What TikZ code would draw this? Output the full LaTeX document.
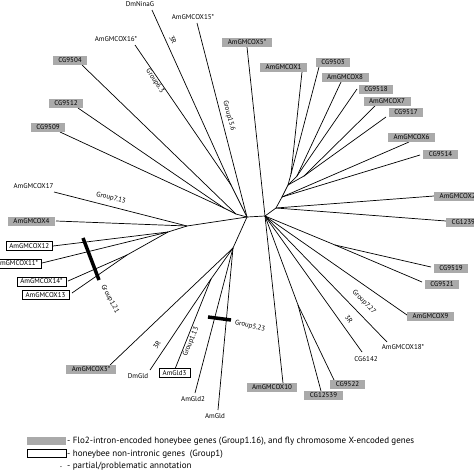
\documentclass[tikz,border=0pt]{standalone}
\usepackage{fontspec}
\setmainfont{PT Sans}
\definecolor{boxgray}{RGB}{170,170,170}
\newcommand{\lblfont}{\fontsize{7}{8}\selectfont}
\newcommand{\legfont}{\fontsize{9}{10}\selectfont}
\begin{document}
\begin{tikzpicture}[x=1pt,y=-1pt,
  br/.style={line width=0.7pt},
  gbox/.style={fill=boxgray, inner xsep=5.5pt, inner ysep=0pt, minimum height=9pt, font=\lblfont},
  wbox/.style={draw, line width=0.6pt, fill=white, inner xsep=3.5pt, inner ysep=0pt, minimum height=9pt, font=\lblfont},
  plainlbl/.style={inner sep=0pt, font=\lblfont},
  grplbl/.style={inner sep=0pt, font=\lblfont},
  thickbar/.style={line width=3.5pt},
]
\useasboundingbox (0,0) rectangle (474,474);
\clip (0,0) rectangle (474,474);

% internal nodes
\coordinate (Lc) at (247,217);
\coordinate (Rc) at (265,216);
\coordinate (n1) at (236,214);
\coordinate (n1a) at (224,208);
\coordinate (n2) at (231,185);
\coordinate (G7) at (187,226);
\coordinate (G1) at (168,232);
\coordinate (G1b) at (127,255);
\coordinate (D) at (233,248);
\coordinate (E) at (211,279);
\coordinate (A) at (276,208);
\coordinate (B) at (282,197);
\coordinate (C) at (288,185);
\coordinate (C1) at (291,174);
\coordinate (C2) at (297,176);
\coordinate (C3) at (304,176);
\coordinate (P) at (335,245);
\coordinate (S) at (298,305);

% tips
\coordinate (tCG9504) at (82,65);
\coordinate (tCG9512) at (78,108);
\coordinate (tCG9509) at (60,132);
\coordinate (tX16) at (135,45);
\coordinate (tNinaG) at (152,10);
\coordinate (tX15) at (197,23);
\coordinate (tX5) at (247,47);
\coordinate (tX1) at (302,72);
\coordinate (tCG9503) at (319,67);
\coordinate (tX8) at (341,82);
\coordinate (tCG9518) at (357,89);
\coordinate (tX7) at (376,105);
\coordinate (tCG9517) at (386,117);
\coordinate (tX6) at (409,142);
\coordinate (tCG9514) at (420,155);
\coordinate (tX2) at (434,196);
\coordinate (tCG1239) at (446,221);
\coordinate (tCG9519) at (431,267);
\coordinate (tCG9521) at (422,282);
\coordinate (tX9) at (407,315);
\coordinate (tX18) at (387,342);
\coordinate (tCG6142) at (362,352);
\coordinate (tCG9522) at (334,380);
\coordinate (tCG12539) at (321,391);
\coordinate (tX10) at (283,383);
\coordinate (tAmGld) at (218,410);
\coordinate (tAmGld2) at (195,393);
\coordinate (tAmGld3) at (175,369);
\coordinate (tDmGld) at (150,370);
\coordinate (tX3) at (110,365);
\coordinate (tX13) at (72,293);
\coordinate (tX14) at (68,281);
\coordinate (tX11) at (42,263);
\coordinate (tX12) at (53,246);
\coordinate (tX4) at (56,221);
\coordinate (tX17) at (54,192);

% central edge and internal edges
\draw[br] (Lc) -- (Rc);
\draw[br] (Lc) -- (n1) -- (n1a);
\draw[br] (Lc) -- (n2);
\draw[br] (Lc) -- (G7) -- (G1) -- (G1b);
\draw[br] (Lc) -- (D) -- (E);
\draw[br] (Rc) -- (A) -- (B) -- (C);
\draw[br] (C) -- (C1);
\draw[br] (C) -- (C2);
\draw[br] (C) -- (C3);
\draw[br] (Rc) -- (P);
\draw[br] (Rc) -- (S);

% terminal edges
\draw[br] (n1) -- (tCG9504);
\draw[br] (n1a) -- (tCG9512);
\draw[br] (n1a) -- (tCG9509);
\draw[br] (n2) -- (tX16);
\draw[br] (n2) -- (tNinaG);
\draw[br] (Lc) -- (tX15);
\draw[br] (Rc) -- (tX5);
\draw[br] (C1) -- (tX1);
\draw[br] (C1) -- (tCG9503);
\draw[br] (C2) -- (tX8);
\draw[br] (C2) -- (tCG9518);
\draw[br] (C3) -- (tX7);
\draw[br] (C3) -- (tCG9517);
\draw[br] (B) -- (tX6);
\draw[br] (B) -- (tCG9514);
\draw[br] (A) -- (tX2);
\draw[br] (A) -- (tCG1239);
\draw[br] (P) -- (tCG9519);
\draw[br] (P) -- (tCG9521);
\draw[br] (Rc) -- (tX9);
\draw[br] (Rc) -- (tX18);
\draw[br] (Rc) -- (tCG6142);
\draw[br] (S) -- (tCG9522);
\draw[br] (S) -- (tCG12539);
\draw[br] (Rc) -- (tX10);
\draw[br] (D) -- (tAmGld);
\draw[br] (D) -- (tAmGld2);
\draw[br] (E) -- (tAmGld3);
\draw[br] (E) -- (tDmGld);
\draw[br] (D) -- (tX3);
\draw[br] (G1b) -- (tX13);
\draw[br] (G1b) -- (tX14);
\draw[br] (G1) -- (tX11);
\draw[br] (G1) -- (tX12);
\draw[br] (G7) -- (tX4);
\draw[br] (G7) -- (tX17);

% thick bars
\coordinate (bar1a) at (83,238);
\coordinate (bar1b) at (99,280);
\draw[thickbar] (bar1a) -- (bar1b);
\coordinate (bar2a) at (208,317);
\coordinate (bar2b) at (231,320);
\draw[thickbar] (bar2a) -- (bar2b);

% leaf labels
\node[gbox] (lCG9504) at (70,60) {CG9504};
\node[gbox] (lCG9512) at (66,103.5) {CG9512};
\node[gbox] (lCG9509) at (48,127.5) {CG9509};
\node[plainlbl] (lX16) at (116,39) {AmGMCOX16*};
\node[plainlbl] (lNinaG) at (140,4.5) {DmNinaG};
\node[plainlbl] (lX15) at (193,17) {AmGMCOX15*};
\node[gbox] (lX5) at (247,42.5) {AmGMCOX5*};
\node[gbox] (lX1) at (283.5,67) {AmGMCOX1};
\node[gbox] (lCG9503) at (333,62.5) {CG9503};
\node[gbox] (lX8) at (345,77.5) {AmGMCOX8};
\node[gbox] (lCG9518) at (376,89) {CG9518};
\node[gbox] (lX7) at (387,101) {AmGMCOX7};
\node[gbox] (lCG9517) at (406,112.5) {CG9517};
\node[gbox] (lX6) at (411.5,137.5) {AmGMCOX6};
\node[gbox] (lCG9514) at (440.5,154.5) {CG9514};
\node[gbox,anchor=west] (lX2) at (434,196) {AmGMCOX2};
\node[gbox,anchor=west] (lCG1239) at (446,222.5) {CG1239};
\node[gbox] (lCG9519) at (451,268.5) {CG9519};
\node[gbox] (lCG9521) at (442,284) {CG9521};
\node[gbox] (lX9) at (430.5,316.5) {AmGMCOX9};
\node[plainlbl] (lX18) at (403,347) {AmGMCOX18*};
\node[plainlbl] (lCG6142) at (366,359) {CG6142};
\node[gbox] (lCG9522) at (347.5,384) {CG9522};
\node[gbox] (lCG12539) at (323.5,395) {CG12539};
\node[gbox] (lX10) at (272,387.5) {AmGMCOX10};
\node[plainlbl] (lAmGld) at (215,416.5) {AmGld};
\node[plainlbl] (lAmGld2) at (193,399.5) {AmGld2};
\node[wbox] (lAmGld3) at (174.5,373) {AmGld3};
\node[plainlbl] (lDmGld) at (138,376) {DmGld};
\node[gbox] (lX3) at (91,369.5) {AmGMCOX3*};
\node[wbox] (lX13) at (45.5,295) {AmGMCOX13};
\node[wbox] (lX14) at (41.5,281.5) {AmGMCOX14*};
\node[wbox,anchor=east] (lX11) at (42,263.5) {AmGMCOX11*};
\node[wbox,anchor=east] (lX12) at (53,246) {AmGMCOX12};
\node[gbox] (lX4) at (31.5,221.5) {AmGMCOX4};
\node[plainlbl] (lX17) at (33.5,186) {AmGMCOX17};

% branch labels
\node[grplbl,rotate=-65] (b3Ra) at (173,40) {3R};
\node[grplbl,rotate=-56] (bG63) at (155,81) {Group6.3};
\node[grplbl,rotate=-75] (bG156) at (229,116) {Group15.6};
\node[grplbl,rotate=-14] (bG713) at (111,198) {Group7.13};
\node[grplbl,rotate=-62] (bG121) at (110,299) {Group1.21};
\node[grplbl,rotate=56] (b3Rb) at (157,345) {3R};
\node[grplbl,rotate=67] (bG113) at (191,342) {Group1.13};
\node[grplbl,rotate=-14] (bG523) at (250,326) {Group5.23};
\node[grplbl,rotate=-46] (bG727) at (364,302) {Group7.27};
\node[grplbl,rotate=-55] (b3Rc) at (349,319) {3R};

% legend
\node[fill=boxgray, minimum width=39pt, minimum height=8pt, inner sep=0pt] (leg1box) at (46.5,441) {};
\node[draw, line width=0.6pt, minimum width=39pt, minimum height=8.5pt, inner sep=0pt] (leg2box) at (46.5,453.5) {};
\node[anchor=west, inner sep=0pt, font=\legfont] (leg1) at (67,441) {- Flo2-intron-encoded honeybee genes (Group1.16), and fly chromosome X-encoded genes};
\node[anchor=west, inner sep=0pt, font=\legfont] (leg2) at (67,454) {- honeybee non-intronic genes\ \ (Group1)};
\node[anchor=base, inner sep=0pt, font=\legfont] (leg3dot) at (61,467) {.};
\node[anchor=west, inner sep=0pt, font=\legfont] (leg3) at (67,466) {- partial/problematic annotation};
\end{tikzpicture}
\end{document}
